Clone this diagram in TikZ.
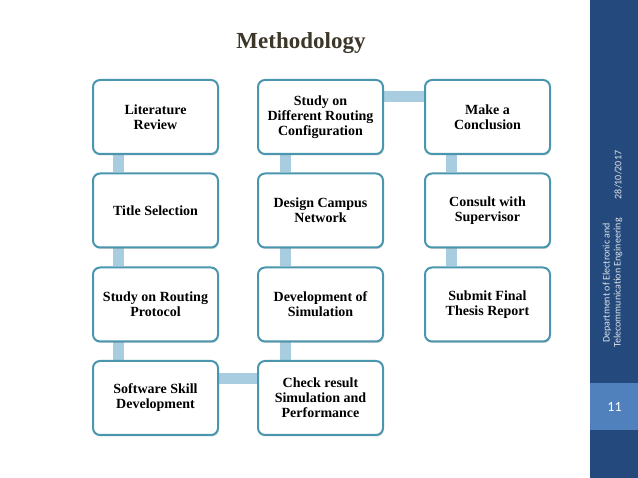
\documentclass[tikz,border=0pt]{standalone}
\usepackage{fontspec}
\setmainfont{Liberation Serif}
\newfontfamily\sidefont{Carlito}
\usepackage{xcolor}
\usetikzlibrary{positioning, shadows, backgrounds}

\definecolor{sidebarblue}{HTML}{24497C}
\definecolor{pageblue}{HTML}{5081BC}
\definecolor{boxedge}{HTML}{4A96AE}
\definecolor{linkbar}{HTML}{A8CDE0}
\definecolor{titlegray}{HTML}{3C3729}

\begin{document}
\begin{tikzpicture}[x=1pt, y=-1pt,
    stepbox/.style={draw=boxedge, line width=2pt, fill=white, rounded corners=7pt,
        minimum width=125pt, minimum height=74pt, align=center,
        font=\bfseries\fontsize{14}{15}\selectfont,
        drop shadow={shadow xshift=0.8pt, shadow yshift=-1.5pt, opacity=0.35}},
    link/.style={linkbar, line width=11pt}]

    \useasboundingbox (0,0) rectangle (638,478);

    % Side bar with date, department and page number
    \fill[sidebarblue] (590,0) rectangle (638,478);
    \fill[pageblue] (590,383) rectangle (638,430);
    \node[rotate=90, text=white!85!sidebarblue, align=center,
          font=\sidefont\fontsize{10}{11}\selectfont] (dept) at (612.5,283)
        {Department of Electronic and\\Telecommunication Engineering};
    \node[rotate=90, text=white!85!sidebarblue,
          font=\sidefont\fontsize{10}{11}\selectfont] (date) at (618,175) {28/10/2017};
    \node[text=white, font=\sidefont\fontsize{14}{16}\selectfont] (pagenum) at (614.5,407) {11};

    % Title
    \node[text=titlegray, font=\bfseries\fontsize{23}{26}\selectfont] (title) at (301,43) {Methodology};

    % First column
    \node[stepbox] (litreview) at (155.5,117) {Literature\\Review};
    \node[stepbox] (titlesel) at (155.5,210.5) {Title Selection};
    \node[stepbox] (routing) at (155.5,304.5) {Study on Routing\\Protocol};
    \node[stepbox] (software) at (155.5,398) {Software Skill\\Development};

    % Second column
    \node[stepbox] (config) at (320.5,117) {Study on\\Different Routing\\Configuration};
    \node[stepbox] (campus) at (320.5,210.5) {Design Campus\\Network};
    \node[stepbox] (simul) at (320.5,304.5) {Development of\\Simulation};
    \node[stepbox] (check) at (320.5,398) {Check result\\Simulation and\\Performance};

    % Third column
    \node[stepbox] (conclude) at (487.5,117) {Make a\\Conclusion};
    \node[stepbox] (consult) at (487.5,210.5) {Consult with\\Supervisor};
    \node[stepbox] (submit) at (487.5,304.5) {Submit Final\\Thesis Report};

    % Connecting bars behind the boxes
    \begin{pgfonlayer}{background}
        \draw[link] ([xshift=-37pt]litreview.south) -- ([xshift=-37pt]titlesel.north);
        \draw[link] ([xshift=-37pt]titlesel.south) -- ([xshift=-37pt]routing.north);
        \draw[link] ([xshift=-37pt]routing.south) -- ([xshift=-37pt]software.north);
        \draw[link] ([yshift=19pt]software.east) -- ([yshift=19pt]check.west);
        \draw[link] ([xshift=-35pt]check.north) -- ([xshift=-35pt]simul.south);
        \draw[link] ([xshift=-35pt]simul.north) -- ([xshift=-35pt]campus.south);
        \draw[link] ([xshift=-35pt]campus.north) -- ([xshift=-35pt]config.south);
        \draw[link] ([yshift=20pt]config.east) -- ([yshift=20pt]conclude.west);
        \draw[link] ([xshift=-36pt]conclude.south) -- ([xshift=-36pt]consult.north);
        \draw[link] ([xshift=-36pt]consult.south) -- ([xshift=-36pt]submit.north);
    \end{pgfonlayer}

\end{tikzpicture}
\end{document}
